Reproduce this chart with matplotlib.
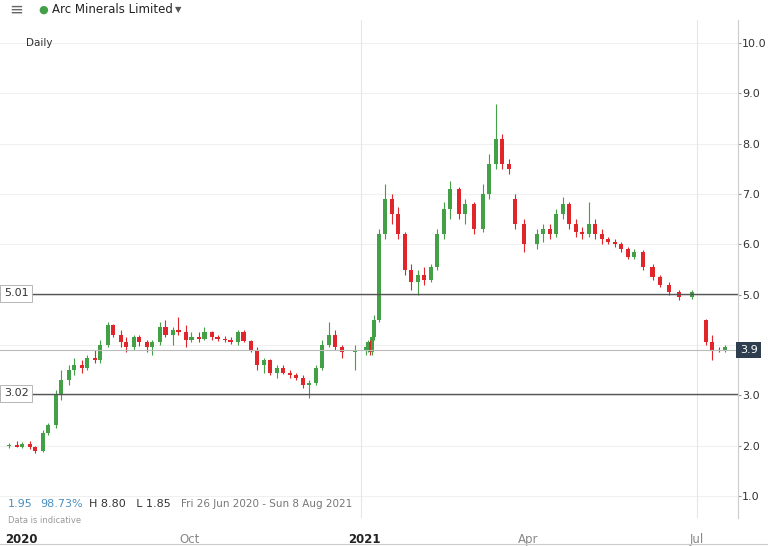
import matplotlib.pyplot as plt
import matplotlib.dates as mdates
from datetime import datetime

dates = [
    '2020-06-26', '2020-06-30', '2020-07-03', '2020-07-07', '2020-07-10', '2020-07-14', '2020-07-17',
    '2020-07-21', '2020-07-24', '2020-07-28', '2020-07-31', '2020-08-04', '2020-08-07', '2020-08-11',
    '2020-08-14', '2020-08-18', '2020-08-21', '2020-08-25', '2020-08-28', '2020-09-01', '2020-09-04',
    '2020-09-08', '2020-09-11', '2020-09-15', '2020-09-18', '2020-09-22', '2020-09-25', '2020-09-29',
    '2020-10-02', '2020-10-06', '2020-10-09', '2020-10-13', '2020-10-16', '2020-10-20', '2020-10-23',
    '2020-10-27', '2020-10-30', '2020-11-03', '2020-11-06', '2020-11-10', '2020-11-13', '2020-11-17',
    '2020-11-20', '2020-11-24', '2020-11-27', '2020-12-01', '2020-12-04', '2020-12-08', '2020-12-11',
    '2020-12-15', '2020-12-18', '2020-12-22', '2020-12-29', '2021-01-04', '2021-01-05', '2021-01-06',
    '2021-01-07', '2021-01-08', '2021-01-11', '2021-01-14', '2021-01-18', '2021-01-21', '2021-01-25',
    '2021-01-28', '2021-02-01', '2021-02-04', '2021-02-08', '2021-02-11', '2021-02-15', '2021-02-18',
    '2021-02-23', '2021-02-26', '2021-03-03', '2021-03-08', '2021-03-11', '2021-03-15', '2021-03-18',
    '2021-03-22', '2021-03-25', '2021-03-30', '2021-04-06', '2021-04-09', '2021-04-13', '2021-04-16',
    '2021-04-20', '2021-04-23', '2021-04-27', '2021-04-30', '2021-05-04', '2021-05-07', '2021-05-11',
    '2021-05-14', '2021-05-18', '2021-05-21', '2021-05-25', '2021-05-28', '2021-06-02', '2021-06-07',
    '2021-06-11', '2021-06-16', '2021-06-21', '2021-06-28', '2021-07-06', '2021-07-09', '2021-07-13',
    '2021-07-16',
]
opens = [2.00, 2.02, 1.98, 2.03, 1.97, 1.90, 2.25, 2.40, 3.00, 3.30, 3.50, 3.60, 3.55, 3.75, 3.70, 4.00,
         4.40, 4.20, 4.05, 3.95, 4.15, 4.05, 3.95, 4.05, 4.35, 4.20, 4.30, 4.25, 4.10, 4.15, 4.12, 4.25,
         4.15, 4.12, 4.10, 4.05, 4.25, 4.08, 3.90, 3.60, 3.70, 3.45, 3.55, 3.45, 3.40, 3.35, 3.20, 3.25,
         3.55, 4.00, 4.20, 3.95, 3.85, 3.90, 3.95, 4.05, 3.85, 4.15, 4.50, 6.20, 6.90, 6.60, 6.20, 5.50,
         5.25, 5.40, 5.30, 5.55, 6.20, 6.70, 7.10, 6.60, 6.80, 6.30, 7.00, 7.60, 8.10, 7.60, 6.90, 6.40,
         6.00, 6.20, 6.30, 6.20, 6.60, 6.80, 6.40, 6.25, 6.20, 6.40, 6.20, 6.10, 6.05, 6.00, 5.90, 5.75,
         5.85, 5.55, 5.35, 5.20, 5.05, 4.95, 4.50, 4.05, 3.90, 3.88]
highs = [2.05, 2.10, 2.08, 2.10, 2.00, 2.30, 2.45, 3.10, 3.50, 3.60, 3.75, 3.70, 3.80, 3.90, 4.10, 4.45,
         4.42, 4.30, 4.15, 4.20, 4.20, 4.10, 4.10, 4.45, 4.50, 4.35, 4.55, 4.40, 4.25, 4.25, 4.35, 4.28,
         4.20, 4.18, 4.15, 4.30, 4.30, 4.10, 3.95, 3.75, 3.72, 3.60, 3.60, 3.50, 3.45, 3.40, 3.30, 3.60,
         4.10, 4.45, 4.30, 4.00, 4.00, 4.05, 4.10, 4.10, 4.20, 4.60, 6.30, 7.20, 7.00, 6.75, 6.25, 5.60,
         5.50, 5.55, 5.60, 6.30, 6.85, 7.25, 7.15, 6.90, 6.85, 7.20, 7.80, 8.80, 8.20, 7.70, 7.00, 6.50,
         6.30, 6.40, 6.40, 6.70, 6.95, 6.85, 6.50, 6.35, 6.85, 6.50, 6.30, 6.15, 6.10, 6.05, 5.95, 5.90,
         5.88, 5.60, 5.40, 5.25, 5.10, 5.10, 4.52, 4.20, 3.95, 4.00]
lows = [1.95, 1.97, 1.95, 1.93, 1.85, 1.88, 2.20, 2.35, 2.90, 3.20, 3.40, 3.45, 3.50, 3.65, 3.65, 3.95,
        4.15, 3.95, 3.85, 3.90, 3.98, 3.85, 3.80, 4.00, 4.15, 4.00, 4.20, 3.95, 4.05, 4.05, 4.10, 4.10,
        4.08, 4.05, 4.02, 4.00, 4.05, 3.85, 3.50, 3.45, 3.40, 3.35, 3.42, 3.35, 3.30, 3.15, 2.95, 3.20,
        3.50, 3.95, 3.90, 3.75, 3.50, 3.80, 3.85, 3.80, 3.80, 4.10, 4.45, 6.10, 6.40, 6.10, 5.40, 5.10,
        5.00, 5.20, 5.25, 5.50, 6.10, 6.50, 6.50, 6.40, 6.20, 6.25, 6.90, 7.50, 7.50, 7.40, 6.30, 5.85,
        5.90, 6.05, 6.10, 6.15, 6.50, 6.30, 6.15, 6.10, 6.15, 6.10, 6.00, 6.00, 5.95, 5.85, 5.70, 5.70,
        5.50, 5.30, 5.15, 5.00, 4.90, 4.92, 4.00, 3.70, 3.85, 3.85]
closes = [2.02, 1.98, 2.03, 1.97, 1.90, 2.25, 2.40, 3.00, 3.30, 3.50, 3.60, 3.55, 3.75, 3.70, 4.00, 4.40,
          4.20, 4.05, 3.95, 4.15, 4.05, 3.95, 4.05, 4.35, 4.20, 4.30, 4.25, 4.10, 4.15, 4.12, 4.25, 4.15,
          4.12, 4.10, 4.05, 4.25, 4.08, 3.90, 3.60, 3.70, 3.45, 3.55, 3.45, 3.40, 3.35, 3.20, 3.25, 3.55,
          4.00, 4.20, 3.95, 3.85, 3.90, 3.95, 4.05, 3.85, 4.15, 4.50, 6.20, 6.90, 6.60, 6.20, 5.50, 5.25,
          5.40, 5.30, 5.55, 6.20, 6.70, 7.10, 6.60, 6.80, 6.30, 7.00, 7.60, 8.10, 7.60, 7.50, 6.40, 6.00,
          6.20, 6.30, 6.20, 6.60, 6.80, 6.40, 6.25, 6.20, 6.40, 6.20, 6.10, 6.05, 6.00, 5.90, 5.75, 5.85,
          5.55, 5.35, 5.20, 5.05, 4.95, 5.05, 4.05, 3.90, 3.88, 3.95]

price_ticks = [1.0, 2.0, 3.0, 4.0, 5.0, 6.0, 7.0, 8.0, 9.0, 10.0]
level_lines = [5.01, 3.02]
last_price = 3.9
month_labels = [('2020-06-22', '2020', True), ('2020-10-01', 'Oct', False), ('2021-01-01', '2021', True),
                ('2021-04-01', 'Apr', False), ('2021-07-01', 'Jul', False)]

GREEN = '#43a047'
RED = '#e0262b'

fig = plt.figure(figsize=(7.68, 5.46), dpi=100)
ax = fig.add_axes([0, 0.051, 0.961, 0.912])

xs = [mdates.date2num(datetime.strptime(d, '%Y-%m-%d')) for d in dates]
for x, o, h, l, c in zip(xs, opens, highs, lows, closes):
    col = GREEN if c >= o else RED
    ax.vlines(x, l, h, color=col, lw=0.8)
    ax.bar(x, abs(c - o) if abs(c - o) > 0.02 else 0.03, width=2.2, bottom=min(o, c), color=col, lw=0)

x0 = mdates.date2num(datetime(2020, 6, 21))
x1 = mdates.date2num(datetime(2021, 7, 23))
ax.set_xlim(x0, x1)
ax.set_ylim(0.556, 10.457)

for p in price_ticks:
    ax.axhline(p, color='#f0f0f0', lw=0.8, zorder=0)
for d in ['2021-01-01', '2021-07-01']:
    ax.axvline(mdates.date2num(datetime.strptime(d, '%Y-%m-%d')), color='#e6e6e6', lw=0.8, zorder=0)
for lv in level_lines:
    ax.axhline(lv, color='#555555', lw=1.0)
    ax.text(x0 + 2, lv + 0.02, f'{lv:.2f}', fontsize=8, color='#333333', va='center', ha='left',
            bbox=dict(facecolor='white', edgecolor='#aaaaaa', lw=0.6, pad=2.5))
ax.axhline(last_price, color='#bbbbbb', lw=0.8)

ax.set_xticks([])
ax.yaxis.tick_right()
ax.set_yticks(price_ticks)
ax.set_yticklabels(['' if p == 4.0 else f'{p:.1f}' for p in price_ticks], fontsize=8, color='#333333')
ax.tick_params(axis='y', length=2, color='#999999', pad=1)
for s in ['top', 'left', 'bottom']:
    ax.spines[s].set_visible(False)
ax.spines['right'].set_color('#cccccc')

ax.text(x1 + 1, last_price, '3.9', fontsize=8, color='white', va='center', ha='left', clip_on=False,
        bbox=dict(facecolor='#2f3e4e', edgecolor='none', pad=2.5))

ax.text(0.035, 0.955, 'Daily', transform=ax.transAxes, fontsize=7.5, color='#333333', va='center')
fig.text(0.01, 0.072, '1.95', fontsize=8, color='#4a8fc0')
fig.text(0.052, 0.072, '98.73%', fontsize=8, color='#4a8fc0')
fig.text(0.116, 0.072, 'H 8.80   L 1.85', fontsize=8, color='#333333')
fig.text(0.236, 0.072, 'Fri 26 Jun 2020 - Sun 8 Aug 2021', fontsize=7.5, color='#777777')
fig.text(0.01, 0.042, 'Data is indicative', fontsize=6, color='#999999')

for d, lab, bold in month_labels:
    xp = mdates.date2num(datetime.strptime(d, '%Y-%m-%d'))
    ax.text(xp + (2 if bold else 0), -0.03, lab, transform=ax.get_xaxis_transform(), fontsize=8.5,
            ha='left' if d == '2020-06-22' else 'center', va='top',
            color='#222222' if bold else '#888888', fontweight='bold' if bold else 'normal')
fig.add_artist(plt.Line2D([0, 1], [0.003, 0.003], color='#cccccc', lw=0.8))

fig.text(0.012, 0.982, '\u2261', fontsize=12, color='#666666', va='center')
fig.text(0.05, 0.982, '\u25cf', fontsize=8, color=GREEN, va='center')
fig.text(0.068, 0.982, 'Arc Minerals Limited', fontsize=8.5, color='#222222', va='center')
fig.text(0.228, 0.982, '\u25bc', fontsize=6, color='#555555', va='center')

fig.savefig('out.png', dpi=100)
